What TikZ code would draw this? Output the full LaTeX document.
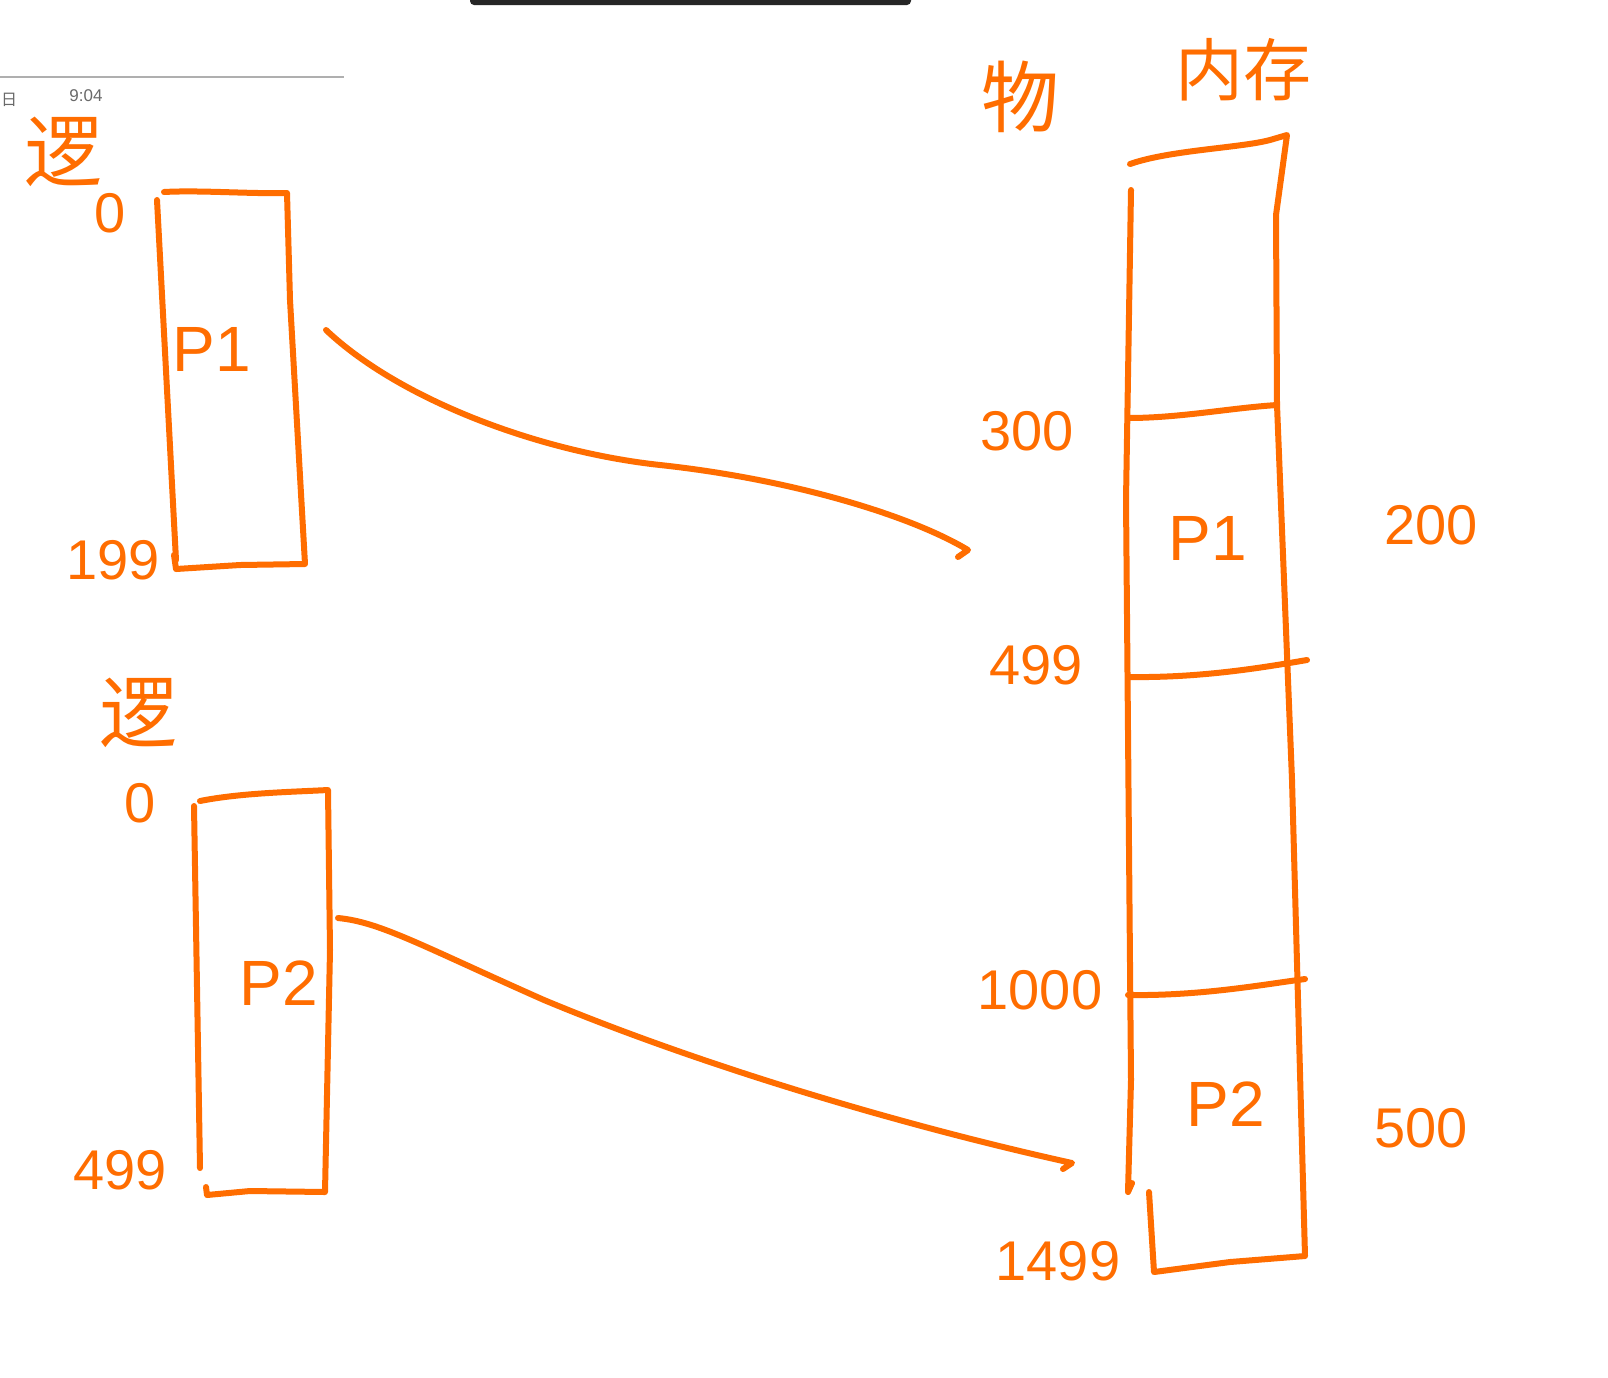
\documentclass[tikz,border=0pt]{standalone}
\usepackage{fontspec}
\setmainfont{Liberation Sans}
\newfontfamily\cjk{Noto Sans CJK SC}
\definecolor{pen}{RGB}{255,109,0}
\definecolor{uigray}{RGB}{105,105,105}
\definecolor{uiline}{RGB}{175,175,175}
\begin{document}
\begin{tikzpicture}[x=1pt,y=-1pt,
  ink/.style={draw=pen,line width=6pt,line cap=round,line join=round},
  num/.style={text=pen,font=\fontsize{56}{56}\selectfont,inner sep=0pt},
  plab/.style={text=pen,font=\fontsize{64}{64}\selectfont,inner sep=0pt},
  hz/.style={text=pen,font=\cjk\fontsize{78}{78}\selectfont,inner sep=0pt}]
\useasboundingbox (0,0) rectangle (1608,1377);
\fill[white] (0,0) rectangle (1608,1377);
% screenshot artifacts
\fill[black!85,rounded corners=4pt] (470,-6) rectangle (911,5);
\draw[uiline,line width=1.5pt] (0,77) -- (344,77);
\node[text=uigray,font=\fontsize{17}{17}\selectfont,inner sep=0pt] (time) at (86,96) {9:04};
\node[text=uigray,font=\cjk\fontsize{16}{16}\selectfont,inner sep=0pt,anchor=west] (ri) at (1,100) {日};
% ---------- logical box 1
\coordinate (a1) at (164,192);
\coordinate (a2) at (287,193);
\coordinate (a3) at (305,564);
\coordinate (a4) at (176,569);
\draw[ink] (157,200) -- (176,560);
\draw[ink] (a1) .. controls (200,190) and (250,194) .. (a2) -- (290,300) -- (a3) -- (240,565) -- (a4) -- (174,555);
% ---------- logical box 2
\coordinate (b1) at (200,801);
\coordinate (b2) at (328,790);
\coordinate (b3) at (325,1192);
\coordinate (b4) at (207,1195);
\draw[ink] (194,806) -- (200,1168);
\draw[ink] (b1) .. controls (240,793) and (290,792) .. (b2) -- (330,950) -- (b3) -- (250,1191) -- (b4) -- (206,1187);
% ---------- physical memory column
\coordinate (m1) at (1130,164);
\coordinate (m2) at (1287,135);
\coordinate (m3) at (1305,1256);
\coordinate (m4) at (1154,1272);
\draw[ink] (m1) .. controls (1170,150) and (1240,148) .. (1270,140) -- (m2) -- (1276,215) -- (1277,405) -- (1292,780) -- (m3) -- (1230,1262) -- (m4) -- (1149,1192);
\draw[ink] (1131,190) -- (1126,500) -- (1131,1080) -- (1128,1192) -- (1132,1183);
% dividers
\draw[ink] (1128,418) .. controls (1180,418) and (1230,408) .. (1277,405);
\draw[ink] (1128,677) .. controls (1200,678) and (1260,668) .. (1307,660);
\draw[ink] (1128,995) .. controls (1200,996) and (1260,985) .. (1305,979);
% ---------- labels
\node[hz] (luo1) at (63,152) {逻};
\node[num] (z1) at (110,213) {0};
\node[num] (n199) at (113,560) {199};
\node[plab] (lp1) at (212,349) {P1};
\node[hz] (luo2) at (138,713) {逻};
\node[num] (z2) at (140,803) {0};
\node[num] (n499a) at (120,1170) {499};
\node[plab] (lp2) at (279,983) {P2};
\node[hz] (wu) at (1020,97) {物};
\node[hz,font=\cjk\fontsize{68}{68}\selectfont] (nc) at (1243,70) {内存};
\node[num] (n300) at (1027,431) {300};
\node[plab] (rp1) at (1208,538) {P1};
\node[num] (n200) at (1431,525) {200};
\node[num] (n499b) at (1036,665) {499};
\node[num] (n1000) at (1040,990) {1000};
\node[plab] (rp2) at (1226,1104) {P2};
\node[num] (n500) at (1421,1128) {500};
\node[num] (n1499) at (1058,1261) {1499};
% ---------- mapping curves
\coordinate (c1s) at (326,330);
\coordinate (c1e) at (968,550);
\coordinate (c1h) at (958,557);
\draw[ink] (c1s) .. controls (400,400) and (540,452) .. (660,465) .. controls (790,479) and (910,515) .. (c1e) -- (c1h);
\coordinate (c2s) at (338,918);
\coordinate (c2e) at (1072,1163);
\coordinate (c2h) at (1063,1169);
\draw[ink] (c2s) .. controls (380,922) and (420,945) .. (544,1000) .. controls (700,1065) and (900,1125) .. (c2e) -- (c2h);
\end{tikzpicture}
\end{document}
